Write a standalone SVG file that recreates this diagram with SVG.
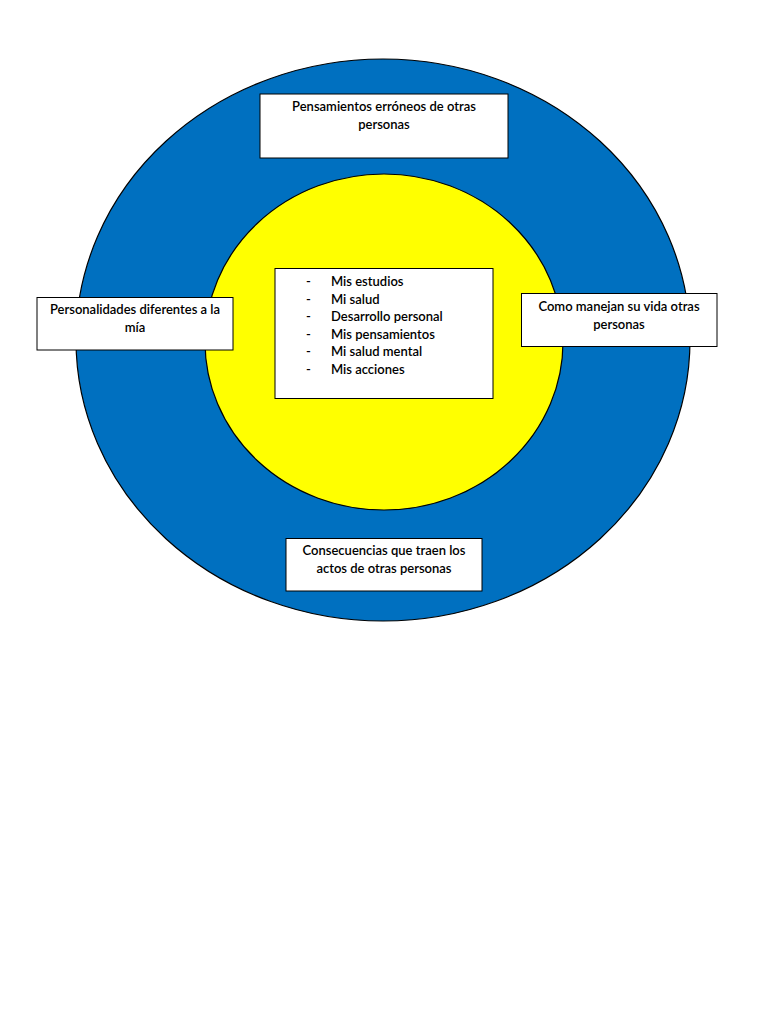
<svg xmlns="http://www.w3.org/2000/svg" width="768" height="1024" viewBox="0 0 768 1024">
<style>
.bx{fill:#fff;stroke:#000;stroke-width:1}
.t{font-family:Lato,"Open Sans","Liberation Sans",sans-serif;font-size:13px;font-weight:600;fill:#000;text-anchor:middle}
.l{font-family:Lato,"Open Sans","Liberation Sans",sans-serif;font-size:13px;font-weight:600;fill:#000}
</style>
<rect width="768" height="1024" fill="#fff"/>
<g id="outer"><ellipse cx="383" cy="340" rx="307" ry="281" fill="#0070C0" stroke="#000" stroke-width="1.2"/></g>
<g id="inner"><ellipse cx="384" cy="342" rx="179" ry="168" fill="#FFFF00" stroke="#000" stroke-width="1.2"/></g>
<g id="top">
<rect class="bx" x="260" y="94" width="248" height="64"/>
<text class="t" x="384" y="111">Pensamientos erróneos de otras</text>
<text class="t" x="384" y="129">personas</text>
</g>
<g id="center">
<rect class="bx" x="275" y="268.5" width="218" height="130"/>
<text class="l" x="306" y="286">-</text><text class="l" x="331" y="286">Mis estudios</text>
<text class="l" x="306" y="303.5">-</text><text class="l" x="331" y="303.5">Mi salud</text>
<text class="l" x="306" y="321">-</text><text class="l" x="331" y="321">Desarrollo personal</text>
<text class="l" x="306" y="338.5">-</text><text class="l" x="331" y="338.5">Mis pensamientos</text>
<text class="l" x="306" y="356">-</text><text class="l" x="331" y="356">Mi salud mental</text>
<text class="l" x="306" y="373.5">-</text><text class="l" x="331" y="373.5">Mis acciones</text>
</g>
<g id="left">
<rect class="bx" x="37" y="297.5" width="196" height="52.5"/>
<text class="t" x="135" y="314">Personalidades diferentes a la</text>
<text class="t" x="135" y="332">mía</text>
</g>
<g id="right">
<rect class="bx" x="521.5" y="293.5" width="195.5" height="53"/>
<text class="t" x="619" y="310.5">Como manejan su vida otras</text>
<text class="t" x="619" y="328.5">personas</text>
</g>
<g id="bottom">
<rect class="bx" x="286" y="538.5" width="196" height="52.5"/>
<text class="t" x="384" y="555">Consecuencias que traen los</text>
<text class="t" x="384" y="573">actos de otras personas</text>
</g>
<g id="connectors"></g>
</svg>
